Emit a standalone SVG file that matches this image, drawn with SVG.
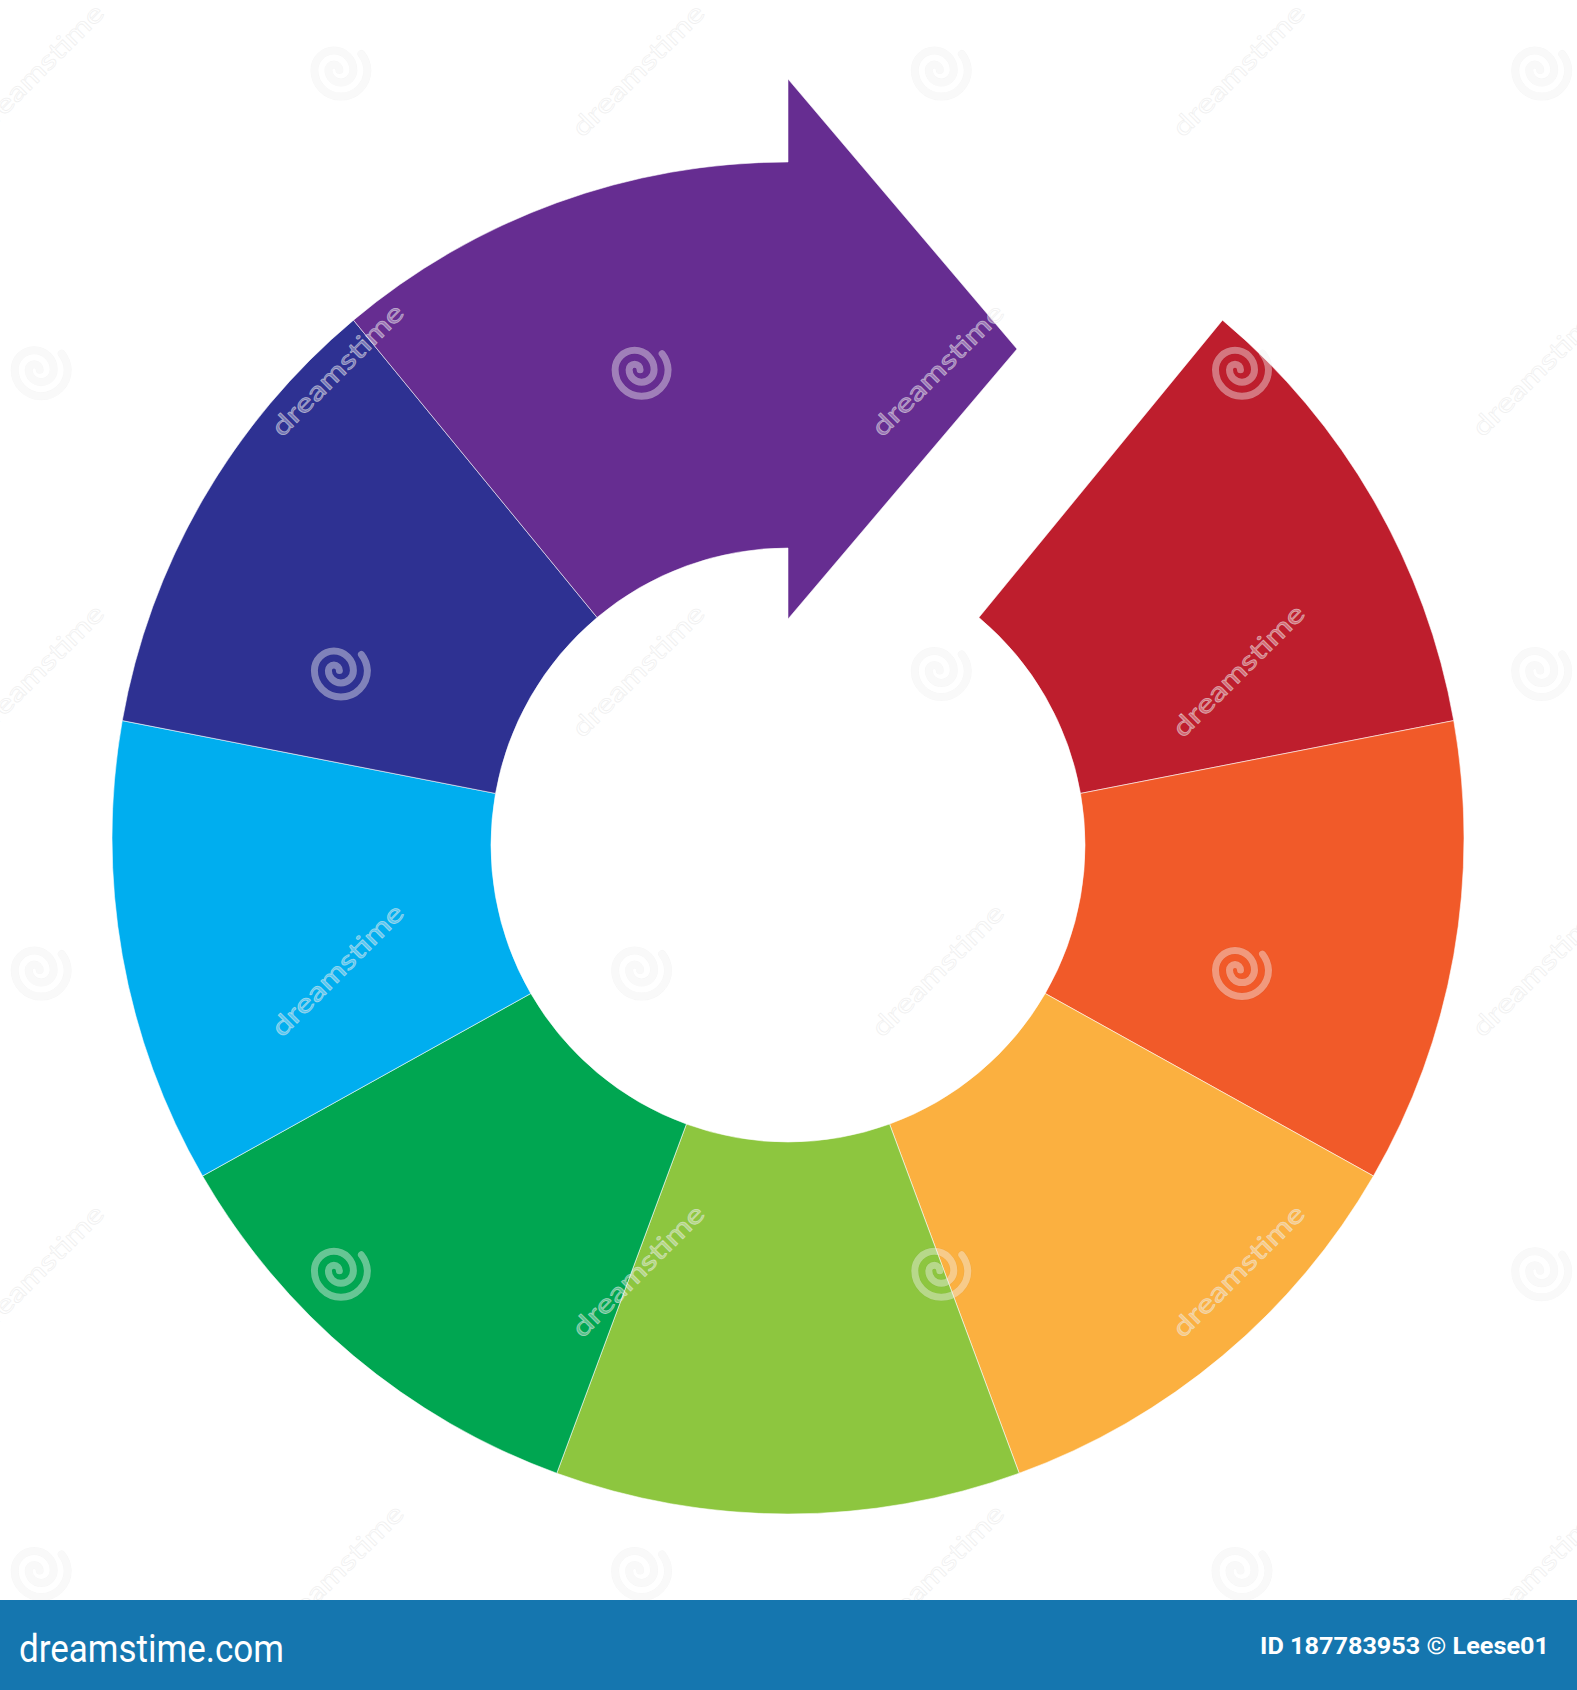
<svg xmlns="http://www.w3.org/2000/svg" xmlns:xlink="http://www.w3.org/1999/xlink" width="1577" height="1690" viewBox="0 0 1577 1690">
<style>
.seg{stroke:#ffffff;stroke-width:0.8;stroke-opacity:0.7}
.wm{font-family:"Lato","DejaVu Sans",sans-serif;font-size:26px;fill:#ffffff;fill-opacity:0.35;stroke:#e6e6e6;stroke-width:0.7;stroke-opacity:0.6}
.sp{fill:none;stroke:#ffffff;stroke-opacity:0.4;stroke-width:7;stroke-linecap:round}
.sp2{fill:none;stroke:#000000;stroke-opacity:0.035;stroke-width:8;stroke-linecap:round}
.foot{font-family:"Roboto","Liberation Sans",sans-serif;fill:#ffffff}
</style>
<defs>
<path id="spiral" d="M 2 0 A 5.5 5.5 0 0 0 -9 0 A 12.5 12.5 0 0 0 16 0 A 19.5 19.5 0 0 0 -23 0 A 26.5 26.5 0 0 0 30 0 A 28 28 0 0 0 24 -16"/>
</defs>
<rect x="0" y="0" width="1577" height="1690" fill="#ffffff"/>
<g id="wheel">
<g id="red"><path class="seg" fill="#BE1E2D" d="M 1222.52 320.15 A 676 676 0 0 1 1453.73 720.61 L 1080.49 793.43 A 297 297 0 0 0 978.91 617.48 Z"/></g>
<g id="orange"><path class="seg" fill="#F15A29" d="M 1453.73 720.61 A 676 676 0 0 1 1373.43 1176 L 1045.21 993.5 A 297 297 0 0 0 1080.49 793.43 Z"/></g>
<g id="yellow"><path class="seg" fill="#FBB040" d="M 1373.43 1176 A 676 676 0 0 1 1019.21 1473.23 L 889.58 1124.09 A 297 297 0 0 0 1045.21 993.5 Z"/></g>
<g id="lightgreen"><path class="seg" fill="#8DC63F" d="M 1019.21 1473.23 A 676 676 0 0 1 556.79 1473.23 L 686.42 1124.09 A 297 297 0 0 0 889.58 1124.09 Z"/></g>
<g id="green"><path class="seg" fill="#00A651" d="M 556.79 1473.23 A 676 676 0 0 1 202.57 1176 L 530.79 993.5 A 297 297 0 0 0 686.42 1124.09 Z"/></g>
<g id="lightblue"><path class="seg" fill="#00AEEF" d="M 202.57 1176 A 676 676 0 0 1 122.27 720.61 L 495.51 793.43 A 297 297 0 0 0 530.79 993.5 Z"/></g>
<g id="navy"><path class="seg" fill="#2E3192" d="M 122.27 720.61 A 676 676 0 0 1 353.48 320.15 L 597.09 617.48 A 297 297 0 0 0 495.51 793.43 Z"/></g>
<g id="purple-arrow"><path class="seg" fill="#662D91" d="M 353.48 320.15 A 676 676 0 0 1 788 162 L 788 79 L 1017 349 L 788 619 L 788 548 A 297 297 0 0 0 597.09 617.48 Z"/></g>
</g>
<g id="watermark">
<g id="wm-spirals">
<use href="#spiral" class="sp2" x="337.4" y="70.1"/><use href="#spiral" class="sp" x="337.4" y="70.1"/>
<use href="#spiral" class="sp2" x="937.8" y="70.1"/><use href="#spiral" class="sp" x="937.8" y="70.1"/>
<use href="#spiral" class="sp2" x="1538.2" y="70.1"/><use href="#spiral" class="sp" x="1538.2" y="70.1"/>
<use href="#spiral" class="sp2" x="337.4" y="670.5"/><use href="#spiral" class="sp" x="337.4" y="670.5"/>
<use href="#spiral" class="sp2" x="937.8" y="670.5"/><use href="#spiral" class="sp" x="937.8" y="670.5"/>
<use href="#spiral" class="sp2" x="1538.2" y="670.5"/><use href="#spiral" class="sp" x="1538.2" y="670.5"/>
<use href="#spiral" class="sp2" x="337.4" y="1270.8"/><use href="#spiral" class="sp" x="337.4" y="1270.8"/>
<use href="#spiral" class="sp2" x="937.8" y="1270.8"/><use href="#spiral" class="sp" x="937.8" y="1270.8"/>
<use href="#spiral" class="sp2" x="1538.2" y="1270.8"/><use href="#spiral" class="sp" x="1538.2" y="1270.8"/>
<use href="#spiral" class="sp2" x="37.7" y="369.7"/><use href="#spiral" class="sp" x="37.7" y="369.7"/>
<use href="#spiral" class="sp2" x="638.1" y="369.7"/><use href="#spiral" class="sp" x="638.1" y="369.7"/>
<use href="#spiral" class="sp2" x="1238.5" y="369.7"/><use href="#spiral" class="sp" x="1238.5" y="369.7"/>
<use href="#spiral" class="sp2" x="37.7" y="970.1"/><use href="#spiral" class="sp" x="37.7" y="970.1"/>
<use href="#spiral" class="sp2" x="638.1" y="970.1"/><use href="#spiral" class="sp" x="638.1" y="970.1"/>
<use href="#spiral" class="sp2" x="1238.5" y="970.1"/><use href="#spiral" class="sp" x="1238.5" y="970.1"/>
<use href="#spiral" class="sp2" x="37.7" y="1570.5"/><use href="#spiral" class="sp" x="37.7" y="1570.5"/>
<use href="#spiral" class="sp2" x="638.1" y="1570.5"/><use href="#spiral" class="sp" x="638.1" y="1570.5"/>
<use href="#spiral" class="sp2" x="1238.5" y="1570.5"/><use href="#spiral" class="sp" x="1238.5" y="1570.5"/>
</g>
<g id="wm-texts" text-anchor="middle">
<text class="wm" transform="translate(37.7 70.1) rotate(-45)" y="9" textLength="175" lengthAdjust="spacingAndGlyphs">dreamstime</text>
<text class="wm" transform="translate(638.1 70.1) rotate(-45)" y="9" textLength="175" lengthAdjust="spacingAndGlyphs">dreamstime</text>
<text class="wm" transform="translate(1238.5 70.1) rotate(-45)" y="9" textLength="175" lengthAdjust="spacingAndGlyphs">dreamstime</text>
<text class="wm" transform="translate(37.7 670.5) rotate(-45)" y="9" textLength="175" lengthAdjust="spacingAndGlyphs">dreamstime</text>
<text class="wm" transform="translate(638.1 670.5) rotate(-45)" y="9" textLength="175" lengthAdjust="spacingAndGlyphs">dreamstime</text>
<text class="wm" transform="translate(1238.5 670.5) rotate(-45)" y="9" textLength="175" lengthAdjust="spacingAndGlyphs">dreamstime</text>
<text class="wm" transform="translate(37.7 1270.8) rotate(-45)" y="9" textLength="175" lengthAdjust="spacingAndGlyphs">dreamstime</text>
<text class="wm" transform="translate(638.1 1270.8) rotate(-45)" y="9" textLength="175" lengthAdjust="spacingAndGlyphs">dreamstime</text>
<text class="wm" transform="translate(1238.5 1270.8) rotate(-45)" y="9" textLength="175" lengthAdjust="spacingAndGlyphs">dreamstime</text>
<text class="wm" transform="translate(337.4 369.7) rotate(-45)" y="9" textLength="175" lengthAdjust="spacingAndGlyphs">dreamstime</text>
<text class="wm" transform="translate(937.8 369.7) rotate(-45)" y="9" textLength="175" lengthAdjust="spacingAndGlyphs">dreamstime</text>
<text class="wm" transform="translate(1538.2 369.7) rotate(-45)" y="9" textLength="175" lengthAdjust="spacingAndGlyphs">dreamstime</text>
<text class="wm" transform="translate(337.4 970.1) rotate(-45)" y="9" textLength="175" lengthAdjust="spacingAndGlyphs">dreamstime</text>
<text class="wm" transform="translate(937.8 970.1) rotate(-45)" y="9" textLength="175" lengthAdjust="spacingAndGlyphs">dreamstime</text>
<text class="wm" transform="translate(1538.2 970.1) rotate(-45)" y="9" textLength="175" lengthAdjust="spacingAndGlyphs">dreamstime</text>
<text class="wm" transform="translate(337.4 1570.5) rotate(-45)" y="9" textLength="175" lengthAdjust="spacingAndGlyphs">dreamstime</text>
<text class="wm" transform="translate(937.8 1570.5) rotate(-45)" y="9" textLength="175" lengthAdjust="spacingAndGlyphs">dreamstime</text>
<text class="wm" transform="translate(1538.2 1570.5) rotate(-45)" y="9" textLength="175" lengthAdjust="spacingAndGlyphs">dreamstime</text>
</g>
</g>
<g id="footer">
<rect x="0" y="1600" width="1577" height="90" fill="#1576AF"/>
<text class="foot" x="19" y="1662" font-size="39" textLength="265" lengthAdjust="spacingAndGlyphs" font-family="Lato, 'DejaVu Sans', sans-serif">dreamstime.com</text>
<text class="foot" x="1260" y="1654" font-size="23" font-weight="bold" textLength="289" lengthAdjust="spacingAndGlyphs">ID 187783953 © Leese01</text>
</g>
</svg>
